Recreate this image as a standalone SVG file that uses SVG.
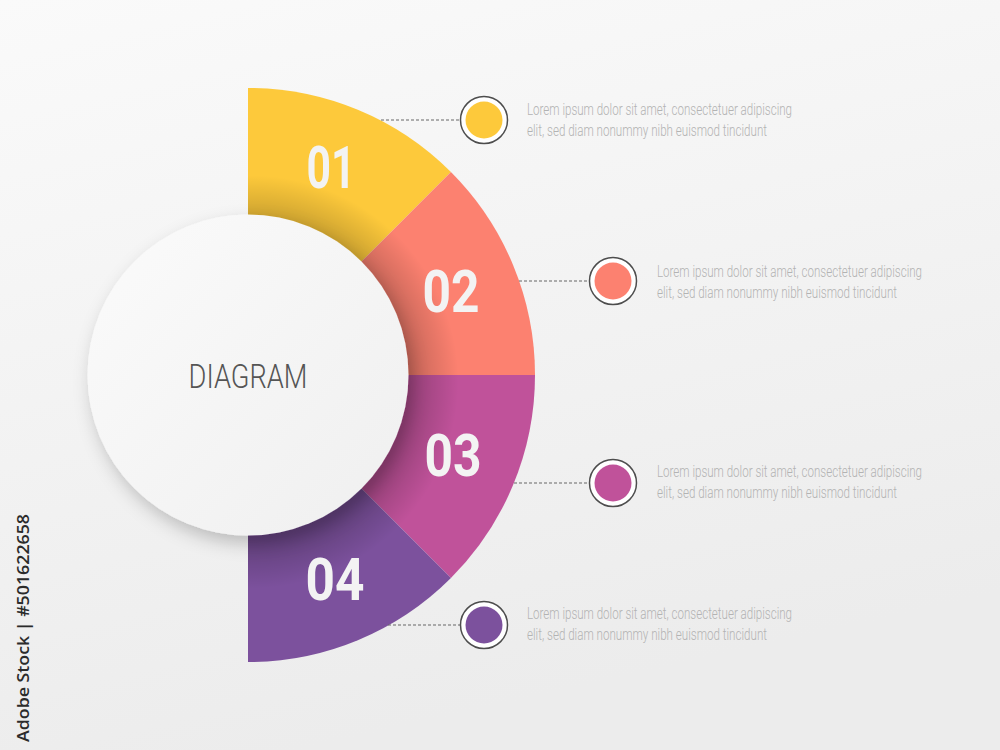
<svg xmlns="http://www.w3.org/2000/svg" width="1000" height="750" viewBox="0 0 1000 750">
<defs>
<linearGradient id="bg" x1="0" y1="0" x2="0.3" y2="1">
<stop offset="0" stop-color="#fafafa"/>
<stop offset="1" stop-color="#ececec"/>
</linearGradient>
<radialGradient id="inShadow" gradientUnits="userSpaceOnUse" cx="252" cy="382" r="287">
<stop offset="0.55" stop-color="#000" stop-opacity="0.22"/>
<stop offset="0.72" stop-color="#000" stop-opacity="0"/>
</radialGradient>
<linearGradient id="circFill" x1="0" y1="0" x2="1" y2="1">
<stop offset="0" stop-color="#fbfbfb"/>
<stop offset="1" stop-color="#efefef"/>
</linearGradient>
<filter id="drop" x="-30%" y="-30%" width="160%" height="160%">
<feDropShadow dx="4" dy="8" stdDeviation="9" flood-color="#000" flood-opacity="0.22"/>
</filter>
</defs>
<style>
.num{font-family:Roboto,"Liberation Sans",sans-serif;font-weight:700;font-size:60px;fill:#f3f3f3;text-anchor:middle}
.desc{font-family:Roboto,"Liberation Sans",sans-serif;font-weight:300;font-size:16px;fill:#b3b3b3}
.ring{fill:#ffffff;stroke:#4d4d4d;stroke-width:1.5}
.conn{stroke:#666;stroke-width:1.2;stroke-dasharray:3 2;fill:none}
</style>
<rect width="1000" height="750" fill="url(#bg)"/>

<g id="wheel">
<g id="seg-01"><path d="M248,375 L248,88 A287,287 0 0,1 450.94,172.06 Z" fill="#fdc93b"/></g>
<g id="seg-02"><path d="M248,375 L450.94,172.06 A287,287 0 0,1 535,375 Z" fill="#fc8170"/></g>
<g id="seg-03"><path d="M248,375 L535,375 A287,287 0 0,1 450.94,577.94 Z" fill="#c0529a"/></g>
<g id="seg-04"><path d="M248,375 L450.94,577.94 A287,287 0 0,1 248,662 Z" fill="#7c519d"/></g>
<path d="M248,88 A287,287 0 0,1 248,662 Z" fill="url(#inShadow)"/>
<text class="num" x="331" y="188" textLength="49" lengthAdjust="spacingAndGlyphs">01</text>
<text class="num" x="451" y="312" textLength="57" lengthAdjust="spacingAndGlyphs">02</text>
<text class="num" x="453" y="476" textLength="57" lengthAdjust="spacingAndGlyphs">03</text>
<text class="num" x="335" y="600" textLength="59" lengthAdjust="spacingAndGlyphs">04</text>
</g>

<g id="center">
<circle cx="248" cy="375" r="160.5" fill="url(#circFill)" filter="url(#drop)"/>
<text x="248" y="388" text-anchor="middle" font-family="Roboto,'Liberation Sans',sans-serif" font-weight="300" font-size="34" fill="#555555" textLength="119" lengthAdjust="spacingAndGlyphs">DIAGRAM</text>
</g>

<g id="connectors">
<line class="conn" x1="381" y1="120" x2="460" y2="120"/>
<line class="conn" x1="519" y1="281" x2="590" y2="281"/>
<line class="conn" x1="514" y1="483" x2="590" y2="483"/>
<line class="conn" x1="388" y1="625" x2="460" y2="625"/>
</g>

<g id="callout-01">
<circle class="ring" cx="484" cy="120" r="23.5"/>
<circle cx="484" cy="120" r="18.5" fill="#fdc93b"/>
<text class="desc" x="527" y="115" textLength="265" lengthAdjust="spacingAndGlyphs">Lorem ipsum dolor sit amet, consectetuer adipiscing</text>
<text class="desc" x="527" y="136" textLength="240" lengthAdjust="spacingAndGlyphs">elit, sed diam nonummy nibh euismod tincidunt</text>
</g>
<g id="callout-02">
<circle class="ring" cx="613" cy="281" r="23.5"/>
<circle cx="613" cy="281" r="18.5" fill="#fc8170"/>
<text class="desc" x="657" y="277" textLength="265" lengthAdjust="spacingAndGlyphs">Lorem ipsum dolor sit amet, consectetuer adipiscing</text>
<text class="desc" x="657" y="298" textLength="240" lengthAdjust="spacingAndGlyphs">elit, sed diam nonummy nibh euismod tincidunt</text>
</g>
<g id="callout-03">
<circle class="ring" cx="613" cy="483" r="23.5"/>
<circle cx="613" cy="483" r="18.5" fill="#c0529a"/>
<text class="desc" x="657" y="477" textLength="265" lengthAdjust="spacingAndGlyphs">Lorem ipsum dolor sit amet, consectetuer adipiscing</text>
<text class="desc" x="657" y="498" textLength="240" lengthAdjust="spacingAndGlyphs">elit, sed diam nonummy nibh euismod tincidunt</text>
</g>
<g id="callout-04">
<circle class="ring" cx="484" cy="625" r="23.5"/>
<circle cx="484" cy="625" r="18.5" fill="#7c519d"/>
<text class="desc" x="527" y="619" textLength="265" lengthAdjust="spacingAndGlyphs">Lorem ipsum dolor sit amet, consectetuer adipiscing</text>
<text class="desc" x="527" y="640" textLength="240" lengthAdjust="spacingAndGlyphs">elit, sed diam nonummy nibh euismod tincidunt</text>
</g>

<text transform="translate(29,742) rotate(-90)" font-family="'Open Sans','Liberation Sans',sans-serif" font-weight="600" font-size="17" fill="#2b2b2b" textLength="228" lengthAdjust="spacingAndGlyphs">Adobe Stock | #501622658</text>
</svg>
